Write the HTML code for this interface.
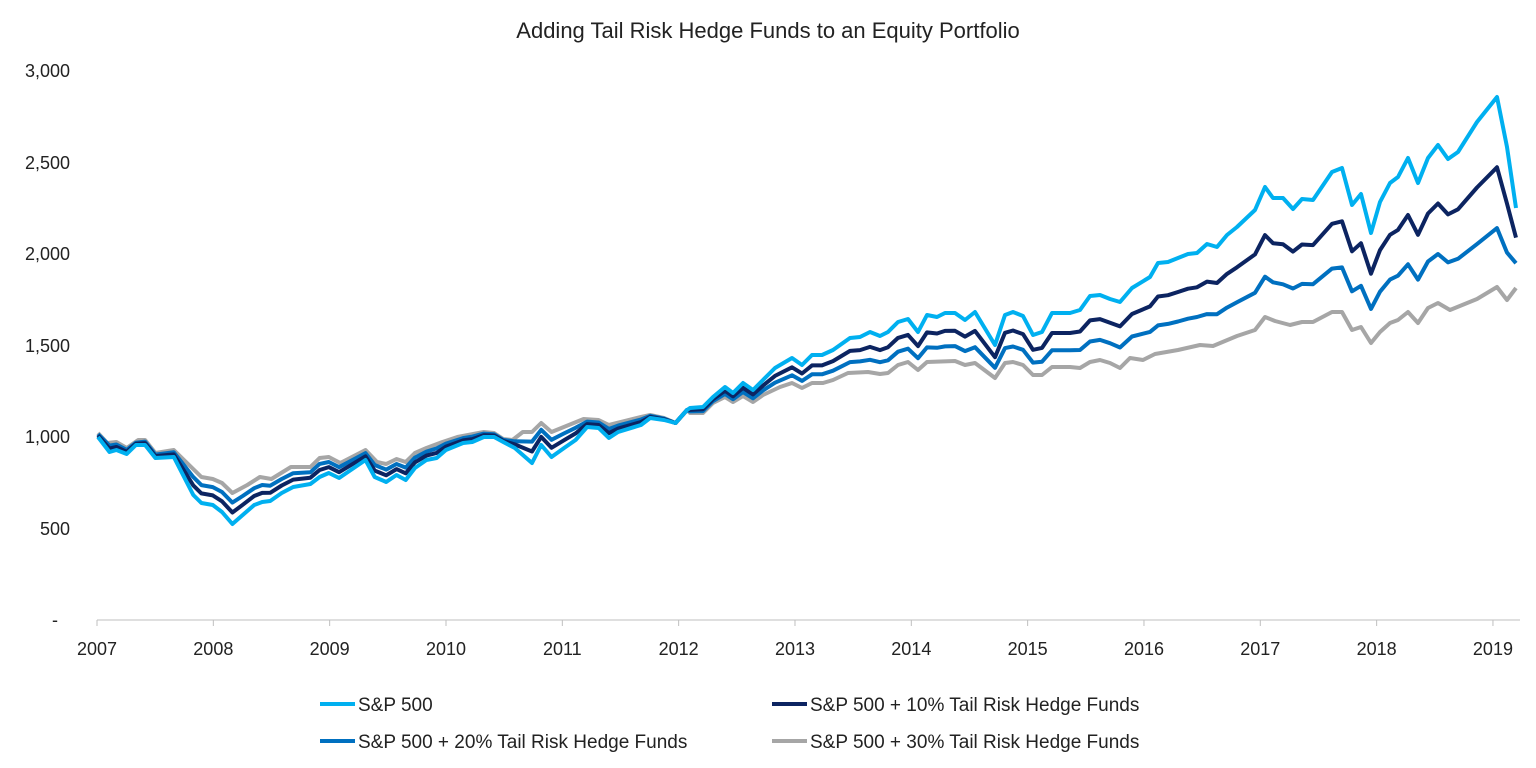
<!DOCTYPE html>
<html><head><meta charset="utf-8"><style>
body{margin:0;background:#fff;}
svg{display:block;font-family:"Liberation Sans",Arial,sans-serif;}
</style></head><body>
<svg id="c" width="1536" height="768" viewBox="0 0 1536 768">
<text x="768" y="38" font-size="22" text-anchor="middle" fill="#222">Adding Tail Risk Hedge Funds to an Equity Portfolio</text>
<g font-size="18" fill="#222" text-anchor="end">
<text x="70" y="77">3,000</text><text x="70" y="169">2,500</text><text x="70" y="260">2,000</text>
<text x="70" y="352">1,500</text><text x="70" y="443">1,000</text><text x="70" y="535">500</text><text x="58" y="626">-</text>
</g>
<line x1="97" y1="620" x2="1520" y2="620" stroke="#bfbfbf" stroke-width="1"/>
<g id="ticks"></g>
<g font-size="18" fill="#222" text-anchor="middle" id="xl"></g>
<g id="lines" fill="none" stroke-width="4" stroke-linejoin="round"></g>
<g font-size="19" fill="#222">
<line x1="320" y1="704" x2="355" y2="704" stroke="#00b0f0" stroke-width="4"/><text x="358" y="711">S&amp;P 500</text>
<line x1="772" y1="704" x2="807" y2="704" stroke="#0c2461" stroke-width="4"/><text x="810" y="711">S&amp;P 500 + 10% Tail Risk Hedge Funds</text>
<line x1="320" y1="741" x2="355" y2="741" stroke="#0070c0" stroke-width="4"/><text x="358" y="748">S&amp;P 500 + 20% Tail Risk Hedge Funds</text>
<line x1="772" y1="741" x2="807" y2="741" stroke="#a6a6a6" stroke-width="4"/><text x="810" y="748">S&amp;P 500 + 30% Tail Risk Hedge Funds</text>
</g>
</svg>
<script>
var NS="http://www.w3.org/2000/svg";
var tk=document.getElementById("ticks"),xl=document.getElementById("xl");
for(var i=0;i<=12;i++){var x=97+116.33*i;
var l=document.createElementNS(NS,"line");l.setAttribute("x1",x);l.setAttribute("x2",x);l.setAttribute("y1",620);l.setAttribute("y2",626);l.setAttribute("stroke","#bfbfbf");tk.appendChild(l);
var t=document.createElementNS(NS,"text");t.setAttribute("x",x);t.setAttribute("y",655);t.textContent=2007+i;xl.appendChild(t);}
var sp=[[97,437],[107,452],[113,450],[122,454],[130,445],[138,445],[147,458],[163,457],[180,495],[187,503],[197,505],[205,512],[214,524],[223,515],[233,505],[240,502],[247,501],[257,493],[267,487],[282,484],[290,477],[298,473],[307,478],[330,460],[338,477],[348,482],[357,475],[365,480],[373,468],[383,460],[392,458],[400,450],[415,443],[423,442],[433,437],[442,437],[450,442],[460,448],[475,463],[483,445],[492,457],[503,448],[513,440],[523,427],[533,428],[542,438],[550,432],[570,425],[578,418],[590,420],[600,423],[610,410],[690,408],[703,407],[713,397],[725,387],[733,393],[743,383],[753,390],[763,380],[775,368],[792,358],[802,365],[812,355],[822,355],[833,350],[850,338],[860,337],[870,332],[880,336],[888,332],[898,322],[908,319],[918,332],[927,315],[937,317],[945,313],[955,313],[965,320],[975,312],[995,345],[1005,315],[1013,312],[1023,316],[1033,335],[1042,332],[1052,313],[1070,313],[1080,310],[1090,296],[1100,295],[1110,299],[1120,302],[1132,288],[1150,277],[1158,263],[1168,262],[1178,258],[1188,254],[1197,253],[1207,244],[1217,247],[1227,235],[1237,227],[1255,210],[1265,187],[1273,198],[1283,198],[1293,209],[1302,199],[1313,200],[1332,172],[1342,168],[1352,205],[1361,194],[1371,233],[1380,202],[1390,183],[1398,177],[1408,158],[1418,183],[1428,158],[1438,145],[1448,159],[1458,152],[1477,122],[1497,97],[1507,147],[1516,208]];
var gr=[[97,433],[105,443],[113,442],[122,448],[132,440],[138,440],[147,453],[163,450],[187,477],[197,479],[205,483],[214,493],[227,485],[238,477],[248,479],[265,467],[282,467],[290,458],[298,457],[308,463],[330,450],[340,462],[348,464],[357,459],[365,462],[373,453],[383,448],[397,442],[410,437],[433,432],[442,433],[450,439],[458,440],[467,432],[475,432],[483,423],[492,432],[520,419],[533,420],[542,425],[570,417],[578,415],[590,418],[600,423],[610,410],[690,413],[703,413],[713,403],[725,397],[733,402],[743,396],[753,402],[763,395],[780,387],[792,383],[802,388],[812,383],[823,383],[833,380],[848,373],[868,372],[880,374],[888,373],[898,365],[908,362],[918,370],[927,362],[955,361],[965,365],[975,363],[995,378],[1005,363],[1013,362],[1023,365],[1033,375],[1042,375],[1052,367],[1070,367],[1080,368],[1090,362],[1100,360],[1110,363],[1120,368],[1130,358],[1143,360],[1155,354],[1178,350],[1200,345],[1213,346],[1237,336],[1255,330],[1265,317],[1275,321],[1290,325],[1302,322],[1313,322],[1332,312],[1342,312],[1352,330],[1361,327],[1371,343],[1380,332],[1390,323],[1398,320],[1408,312],[1418,323],[1428,308],[1438,303],[1450,310],[1477,299],[1497,287],[1507,300],[1516,288]];
function fix(a){a.forEach(function(q){if(q[0]<=610){q[0]=90+(q[0]-90)*1.148;}});}
fix(sp);fix(gr);
function gi(x){for(var i=1;i<gr.length;i++){if(gr[i][0]>=x){var a=gr[i-1],b=gr[i];return a[1]+(b[1]-a[1])*(x-a[0])/(b[0]-a[0]);}}return gr[gr.length-1][1];}
function path(pts,col){var p=document.createElementNS(NS,"polyline");p.setAttribute("points",pts.map(function(q){return q[0].toFixed(1)+","+q[1].toFixed(1)}).join(" "));p.setAttribute("stroke",col);document.getElementById("lines").appendChild(p);}
function mix(f){return sp.map(function(q){return [q[0],q[1]+(gi(q[0])-q[1])*f];});}
path(gr,"#a6a6a6");
path(mix(0.69),"#0070c0");
path(mix(0.37),"#0c2461");
path(sp,"#00b0f0");
</script>
</body></html>
